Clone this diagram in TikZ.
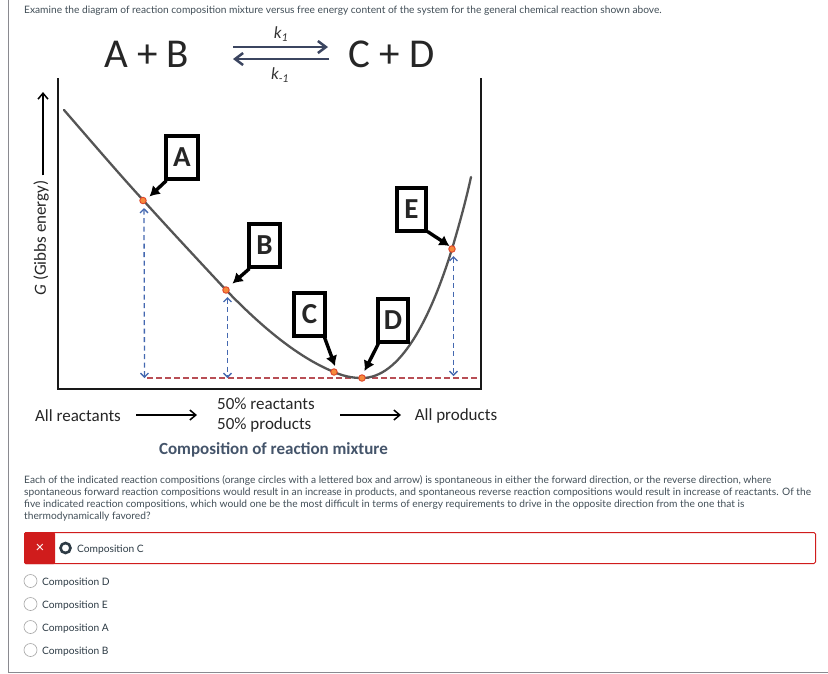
\documentclass[tikz,border=0pt]{standalone}
\usepackage{fontspec}
\setmainfont{Carlito}
\newfontfamily\uifont{Lato}
\usetikzlibrary{arrows.meta}
\definecolor{navy}{HTML}{3B4560}
\definecolor{titleblue}{HTML}{44546A}
\definecolor{dashblue}{HTML}{4468B0}
\definecolor{dashred}{HTML}{B84E55}
\definecolor{curvegray}{HTML}{555555}
\definecolor{uired}{HTML}{D01C1C}
\definecolor{uitext}{HTML}{2D3B45}
\definecolor{pageline}{HTML}{8A8A90}
\definecolor{dotfill}{HTML}{F58A3C}
\definecolor{dotline}{HTML}{E0452A}
\tikzset{
 x=1pt,y=-1pt,
 lab/.style={inner sep=0,font=\fontsize{17}{18}\selectfont,text=black!85},
 eqn/.style={inner sep=0,font=\fontsize{41}{44}\selectfont,text=black!85},
 rate/.style={inner sep=0,font=\fontsize{17}{18}\selectfont\itshape,text=black!80},
 ui/.style={inner sep=0,anchor=west,font=\uifont\fontsize{10.2}{11}\selectfont,text=uitext!90!white},
 opt/.style={inner sep=0,anchor=west,font=\uifont\fontsize{10.2}{11}\selectfont,text=uitext},
 radio/.style={circle,draw=black!35,line width=.6pt,fill=white,minimum size=13pt,inner sep=0},
 letterbox/.style={draw=black,line width=3.2pt,fill=white,inner sep=0,font=\fontsize{29}{30}\selectfont\bfseries,text=black!85},
 dot/.style={circle,draw=dotline,fill=dotfill,line width=.9pt,minimum size=6.5pt,inner sep=0},
 frameline/.style={line width=2.8pt,black!90},
 callout/.style={line width=3.4pt,-{Latex[length=10pt,width=12pt]},black},
 flow/.style={line width=1.5pt,-{Straight Barb[length=6pt,width=10pt]},black},
 eqarrow/.style={line width=2.5pt,navy,-{Straight Barb[length=8pt,width=12pt]}},
 guide/.style={dashblue,line width=1.3pt,dash pattern=on 5pt off 3.5pt,{Straight Barb[length=4pt,width=8pt]}-{Straight Barb[length=4pt,width=8pt]}},
}
\begin{document}
\begin{tikzpicture}
\useasboundingbox (0,0) rectangle (828,673);
\fill[white] (0,0) rectangle (828,673);
% page border
\draw[pageline,line width=1pt] (8.5,0) -- (8.5,672) -- (828,672);
% question
\node[ui] (q) at (24,11) {Examine the diagram of reaction composition mixture versus free energy content of the system for the general chemical reaction shown above.};
% equation
\node[eqn] (ab) at (146.5,54) {A + B};
\node[eqn] (cd) at (391.5,54) {C + D};
\node[rate] (k1) at (281,34) {k\textsubscript{1}};
\node[rate] (km1) at (280,75) {k\textsubscript{-1}};
\coordinate (eqL1) at (233,47); \coordinate (eqR1) at (328,47);
\coordinate (eqL2) at (233,59); \coordinate (eqR2) at (329,59);
\draw[eqarrow] (eqL1) -- (eqR1);
\draw[eqarrow] (eqR2) -- (eqL2);
% frame
\coordinate (tl) at (58,78); \coordinate (bl) at (58,389);
\coordinate (br) at (481,389); \coordinate (tr) at (481,78);
\draw[frameline,line join=miter] (tl) -- (bl) -- (br) -- (tr);
% axis label
\node[lab,rotate=90] (g) at (41,238) {\textit{G} (Gibbs energy)};
\coordinate (axtip) at (43,92);
\draw[flow] (g.east) ++(2,-5) -- (axtip);
% reference line
\coordinate (redL) at (147,378); \coordinate (redR) at (478,378);
\draw[dashred,line width=1.2pt,dash pattern=on 5.5pt off 3.5pt] (redL) -- (redR);
% curve
\draw[curvegray,line width=2.3pt,line cap=round] (64,110)
 .. controls (90,140) and (120,175) .. (143,200)
 .. controls (170,230) and (200,262) .. (226,290)
 .. controls (258,323) and (295,356) .. (334,372)
 .. controls (343,376) and (352,378) .. (362,378)
 .. controls (400,378) and (430,320) .. (452,249)
 .. controls (460,222) and (466,200) .. (471,177);
% points
\node[dot] (ptA) at (143,200.5) {};
\node[dot] (ptB) at (226,290) {};
\node[dot] (ptC) at (334,372) {};
\node[dot] (ptD) at (362,378) {};
\node[dot] (ptE) at (452,249) {};
% guides
\coordinate (gA0) at (144,208); \coordinate (gA1) at (144.5,378);
\coordinate (gB0) at (227.5,297); \coordinate (gB1) at (227.5,378);
\coordinate (gE0) at (453.5,256); \coordinate (gE1) at (453.5,376);
\draw[guide] (gA0) -- (gA1);
\draw[guide] (gB0) -- (gB1);
\draw[guide] (gE0) -- (gE1);
% boxes
\node[letterbox,minimum width=32pt,minimum height=43pt] (boxA) at (182,157.5) {A};
\node[letterbox,minimum width=31pt,minimum height=43pt] (boxB) at (264.5,245.5) {B};
\node[letterbox,minimum width=31pt,minimum height=43pt] (boxC) at (309.5,314.5) {C};
\node[letterbox,minimum width=30pt,minimum height=43pt] (boxD) at (393,320.5) {D};
\node[letterbox,minimum width=29pt,minimum height=43pt] (boxE) at (411.5,209.5) {E};
% callouts
\draw[callout] (boxA.south west) ++(2,0) -- (149.5,196.5);
\draw[callout] (boxB.south west) ++(2,0) -- (232.5,283.5);
\draw[callout] (boxC.south east) ++(-2,0) -- (335,366);
\draw[callout] (boxD.south west) ++(2,0) -- (364.5,371);
\draw[callout] (boxE.south east) ++(0,-1) -- (449.5,246);
% axis text
\node[lab] (allr) at (78,416) {All reactants};
\coordinate (a1s) at (136,415); \coordinate (a1e) at (197,415);
\draw[flow] (a1s) -- (a1e);
\node[lab,anchor=west] (r50) at (217,404) {50\% reactants};
\node[lab,anchor=west] (p50) at (217,425) {50\% products};
\coordinate (a2s) at (340,415); \coordinate (a2e) at (401,415);
\draw[flow] (a2s) -- (a2e);
\node[lab] (allp) at (456,416) {All products};
\node[inner sep=0,font=\fontsize{17}{18}\selectfont\bfseries,text=titleblue] (comp) at (273.5,450) {Composition of reaction mixture};
% paragraph
\node[ui] (p1) at (24,480.5) {Each of the indicated reaction compositions (orange circles with a lettered box and arrow) is spontaneous in either the forward direction, or the reverse direction, where};
\node[ui] (p2) at (24,492.5) {spontaneous forward reaction compositions would result in an increase in products, and spontaneous reverse reaction compositions would result in increase of reactants. Of the};
\node[ui] (p3) at (24,504.5) {five indicated reaction compositions, which would one be the most difficult in terms of energy requirements to drive in the opposite direction from the one that is};
\node[ui] (p4) at (24,516.5) {thermodynamically favored?};
% answer box
\draw[uired,line width=1pt,rounded corners=1.5pt,fill=white] (24.5,532.5) rectangle (815.5,563.5);
\fill[uired,rounded corners=1.5pt] (24,532) rectangle (55,564);
\node[inner sep=0,text=white,font=\uifont\fontsize{15}{16}\selectfont] (xmark) at (40,548) {×};
\node[circle,draw=uitext,fill=white,line width=2.6pt,minimum size=10pt,inner sep=0] (sel) at (65.5,548) {};
\node[opt] (oC) at (77,549.5) {Composition C};
% options
\node[radio] (r1) at (30.5,581) {}; \node[opt] (o1) at (42,583) {Composition D};
\node[radio] (r2) at (30.5,604) {}; \node[opt] (o2) at (42,606) {Composition E};
\node[radio] (r3) at (30.5,627) {}; \node[opt] (o3) at (42,629) {Composition A};
\node[radio] (r4) at (30.5,650) {}; \node[opt] (o4) at (42,652) {Composition B};
\end{tikzpicture}
\end{document}
